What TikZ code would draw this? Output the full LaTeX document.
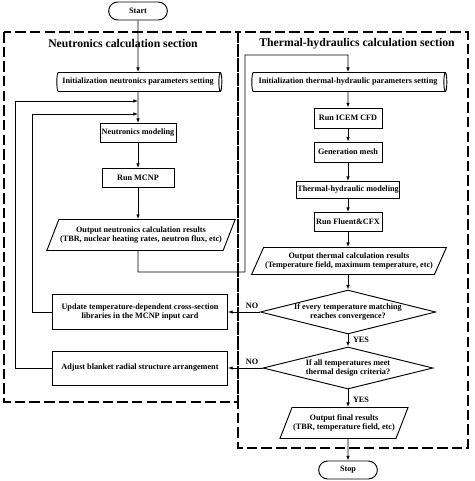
\documentclass[tikz,border=0pt]{standalone}
\usepackage{fontspec}
\setmainfont{Liberation Serif}
\usetikzlibrary{arrows.meta,shapes.geometric,shapes.misc}
\tikzset{
	base/.style={draw, line width=0.8pt, fill=white, align=center, inner sep=1pt, font=\fontsize{7}{8}\selectfont\bfseries},
	procbox/.style={base, rectangle, minimum height=0.57cm},
	termbox/.style={base, rounded rectangle, minimum width=1.83cm, minimum height=0.54cm},
	cylbox/.style={base, cylinder, shape aspect=0.3, minimum width=0.57cm},
	iobox/.style={base, trapezium, trapezium left angle=58, trapezium right angle=122, trapezium stretches=true},
	choice/.style={base, diamond, aspect=4, minimum width=5.1cm, minimum height=1.26cm, inner sep=0pt},
	flow/.style={line width=0.7pt, -{Latex[length=4pt,width=3pt]}},
	section/.style={line width=1pt, dash pattern=on 9pt off 3.5pt},
	tag/.style={font=\fontsize{7}{8}\selectfont\bfseries},
	heading/.style={font=\fontsize{10}{12}\selectfont\bfseries}
}

\begin{document}
\begin{tikzpicture}[x=0.03cm, y=-0.03cm]
	%%%%% START %%%%%
	\useasboundingbox (0,0) rectangle (474,481);
	
	\draw[section] (4,32) rectangle (238,402);
	\draw[section] (238,32) rectangle (468,448);
	
	\node[heading] (titleN) at (123,44) {Neutronics calculation section};
	\node[heading] (titleT) at (357,44) {Thermal-hydraulics calculation section};
	
	\node[termbox] (start) at (138,11) {Start};
	
	\node[cylbox, minimum height=4.95cm] (initN) at (138,82) {Initialization neutronics parameters setting};
	\node[procbox, minimum width=2.28cm] (nmod) at (138,133) {Neutronics modeling};
	\node[procbox, minimum width=2.16cm] (mcnp) at (138,178) {Run MCNP};
	\node[iobox, minimum width=5.65cm, minimum height=0.93cm] (outN) at (141,235) {Output neutronics calculation results\\(TBR, nuclear heating rates, neutron flux, etc)};
	
	\node[procbox, minimum width=5.25cm, minimum height=1.05cm] (update) at (140,312) {Update temperature-dependent cross-section\\libraries in the MCNP input card};
	\node[procbox, minimum width=5.25cm, minimum height=1.02cm] (adjust) at (140,368) {Adjust blanket radial structure arrangement};
	
	\node[cylbox, minimum height=5.85cm] (initT) at (348,82) {Initialization thermal-hydraulic parameters setting};
	\node[procbox, minimum width=2.04cm, minimum height=0.6cm] (icem) at (348,118) {Run ICEM CFD};
	\node[procbox, minimum width=2.04cm, minimum height=0.6cm] (mesh) at (348,152) {Generation mesh};
	\node[procbox, minimum width=3.06cm, minimum height=0.51cm] (thmod) at (348,190) {Thermal-hydraulic modeling};
	\node[procbox, minimum width=2.04cm] (fluent) at (348,222) {Run Fluent\&CFX};
	\node[iobox, minimum width=5.85cm, minimum height=0.81cm] (outT) at (349,261) {Output thermal calculation results\\(Temperature field, maximum temperature, etc)};
	
	\node[choice] (conv) at (348,312) {If every temperature matching\\reaches convergence?};
	\node[choice] (crit) at (348,368) {If all temperatures meet\\thermal design criteria?};
	\node[iobox, minimum width=3.7cm, minimum height=0.93cm] (final) at (344,423) {Output final results\\(TBR, temperature field, etc)};
	\node[termbox] (stop) at (348,470) {Stop};
	
	\coordinate (jN) at (245,272);
	\coordinate (jT) at (348,55);
	\coordinate (loopA) at (32,114);
	\coordinate (loopB) at (15,101);
	\coordinate (fbA) at (138,114);
	\coordinate (fbB) at (138,101);
	
	\draw[flow] (start) -- (initN);
	\draw[flow] (initN) -- (nmod);
	\draw[flow] (nmod) -- (mcnp);
	\draw[flow] (mcnp) -- (mcnp |- outN.north);
	\draw[flow] (outN.south -| mcnp) |- (jN) |- (jT) -- (initT.north);
	
	\draw[flow] (initT) -- (icem);
	\draw[flow] (icem) -- (mesh);
	\draw[flow] (mesh) -- (thmod);
	\draw[flow] (thmod) -- (fluent);
	\draw[flow] (fluent) -- (fluent |- outT.north);
	\draw[flow] (outT.south -| conv) -- (conv);
	\draw[flow] (conv) -- (crit);
	\draw[flow] (crit.south) -- (final.north -| crit.south);
	\draw[flow] (final.south -| stop.north) -- (stop);
	
	\draw[flow] (conv.west) -- (update.east);
	\draw[flow] (crit.west) -- (adjust.east);
	\draw[flow] (update.west) -| (loopA) -- (fbA);
	\draw[flow] (adjust.west) -| (loopB) -- (fbB);
	
	\node[tag] (noA) at (252,306) {NO};
	\node[tag] (noB) at (252,362) {NO};
	\node[tag] (yesA) at (361,340) {YES};
	\node[tag] (yesB) at (361,400) {YES};
	%%%%% END %%%%%
\end{tikzpicture}
\end{document}
